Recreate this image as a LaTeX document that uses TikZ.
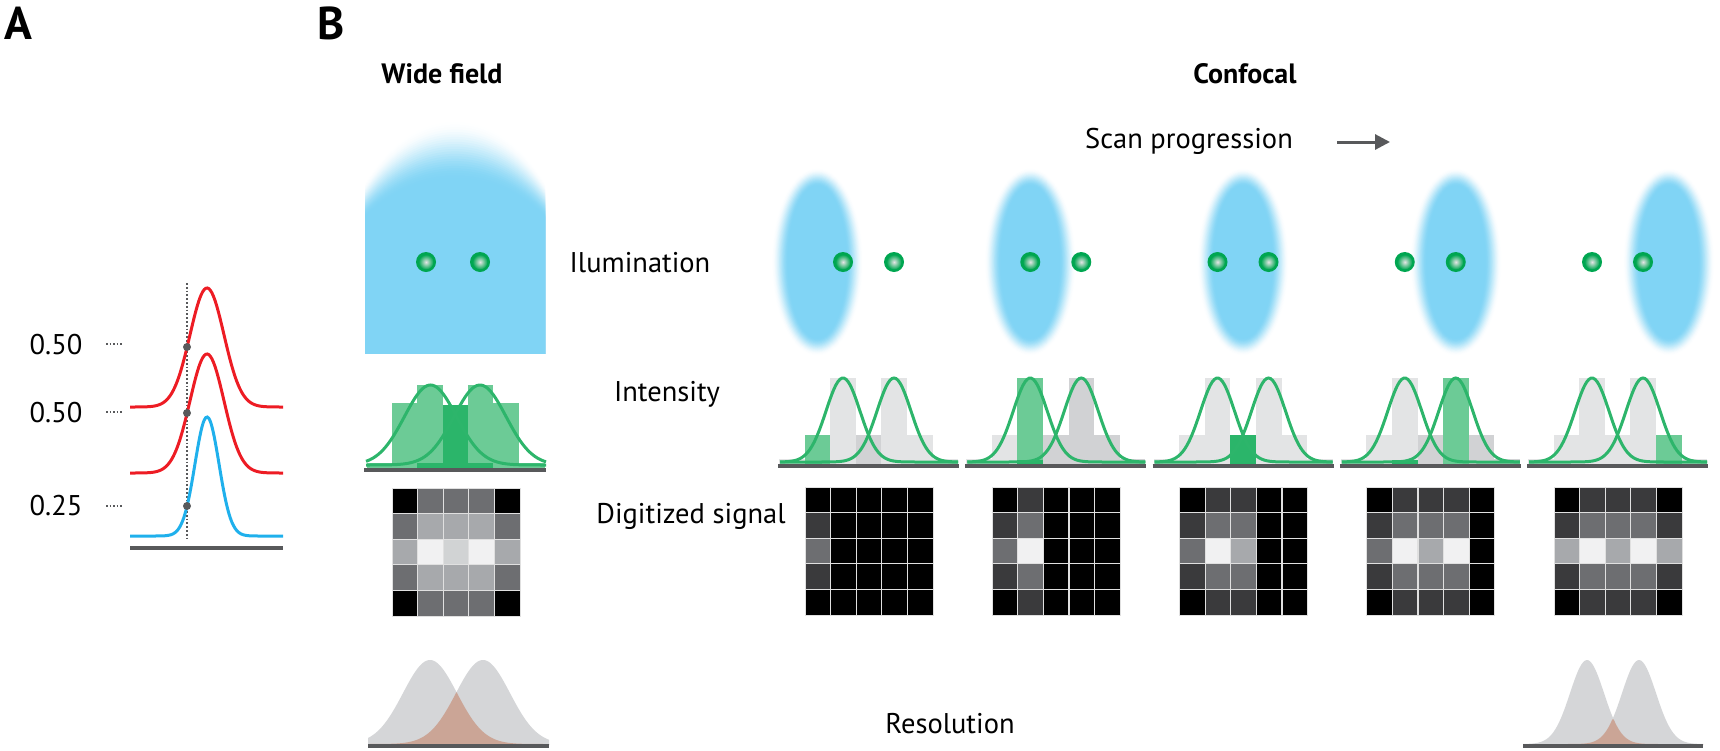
\documentclass[tikz,border=0pt]{standalone}
\usepackage{fontspec}
\setmainfont{PT Sans}
\usetikzlibrary{arrows.meta}
\definecolor{illum}{HTML}{80D4F5}
\definecolor{dotgreen}{HTML}{00A651}
\definecolor{curvegreen}{HTML}{2DB56B}
\definecolor{barlight}{HTML}{6CCB96}
\definecolor{bardark}{HTML}{2BB56A}
\definecolor{greyL}{HTML}{E3E4E5}
\definecolor{greyD}{HTML}{D1D2D4}
\definecolor{axisgrey}{HTML}{58595B}
\definecolor{resgrey}{HTML}{D5D6D8}
\definecolor{resbrown}{HTML}{CBA596}
\definecolor{redc}{HTML}{ED1C24}
\definecolor{bluec}{HTML}{1FB0EC}
\definecolor{cK}{HTML}{000000}
\definecolor{cD}{HTML}{3A3A3C}
\definecolor{cM}{HTML}{6D6E71}
\definecolor{cL}{HTML}{A7A9AC}
\definecolor{cP}{HTML}{D1D3D4}
\definecolor{cW}{HTML}{F1F1F2}
\tikzset{
  lbl/.style={font=\fontsize{28.5}{34}\selectfont, anchor=base, inner sep=0pt},
  hdr/.style={font=\bfseries\fontsize{28}{33}\selectfont, anchor=base, inner sep=0pt},
  panel/.style={font=\bfseries\fontsize{46}{52}\selectfont, anchor=base, inner sep=0pt},
  axisline/.style={axisgrey, line width=3.5pt},
  gcurveline/.style={curvegreen, line width=3pt},
  gridline/.style={white!88!black, line width=1.2pt},
}
\newcommand\blurell[6]{% cx, cy, rxo, ryo, rxi, ryi
  \foreach \k in {0,...,24}{%
    \pgfmathsetmacro\tt{\k/24}%
    \pgfmathsetmacro\pp{100*(3*\tt*\tt-2*\tt*\tt*\tt)}%
    \pgfmathsetmacro\rx{#3+(#5-#3)*\tt}%
    \pgfmathsetmacro\ry{#4+(#6-#4)*\tt}%
    \fill[illum!\pp!white] (#1,#2) ellipse [x radius=\rx, y radius=\ry];
  }}
\newcommand\gdot[2]{%
  \fill[dotgreen] (#1,#2) circle[radius=10];
  \shade[inner color=black!10, outer color=dotgreen] (#1,#2) circle[radius=7.5];}
\newcommand\gcurve[6]{% x1,x2,mu,sigma,base,amp
  \draw[gcurveline] plot[domain=#1:#2, samples=90, smooth] (\x,{#5-#6*exp(-((\x-#3)^2)/(2*#4*#4))});}
\newcommand\digigrid[3]{% x0, y0, list (macro or braced list)
  \foreach \c [count=\i from 0] in #3 {%
    \pgfmathtruncatemacro\cc{mod(\i,5)}%
    \pgfmathtruncatemacro\rr{div(\i,5)}%
    \fill[c\c] ({#1+25.6*\cc},{#2+25.6*\rr}) rectangle ++(25.6,25.6);
  }
  \foreach \j in {1,...,4}{%
    \draw[gridline] ({#1+25.6*\j},#2) -- ++(0,128);
    \draw[gridline] (#1,{#2+25.6*\j}) -- ++(128,0);
  }
  \draw[gridline, line width=0.8pt] (#1,#2) rectangle ++(128,128);}
\newcommand\barrow[2]{% a, list color/top (macro)
  \foreach \c/\tp [count=\k from 0] in #2 {%
    \fill[\c] ({#1+1+25.6*\k},\tp) rectangle ({#1+1+25.6*(\k+1)},464.5);
  }}
\begin{document}
\begin{tikzpicture}[x=1pt, y=-1pt]
\useasboundingbox (0,0) rectangle (1720,750);

% ---------- Panel A ----------
\node[panel] (A) at (18,39) {A};
\draw[axisline] (130,548) -- (283,548);
\draw[axisgrey, line width=1.8pt, dotted] (187,283) -- (187,538);
\draw[redc, line width=3pt] plot[domain=130:283, samples=100, smooth] (\x,{407-119*exp(-((\x-207)^2)/(2*17*17))});
\draw[redc, line width=3pt] plot[domain=130:283, samples=100, smooth] (\x,{473-119*exp(-((\x-207)^2)/(2*17*17))});
\draw[bluec, line width=3pt] plot[domain=130:283, samples=100, smooth] (\x,{536-119*exp(-((\x-207)^2)/(2*12*12))});
\fill[axisgrey] (187,347) circle[radius=4];
\fill[axisgrey] (187,413) circle[radius=4];
\fill[axisgrey] (187,506) circle[radius=4];
\node[lbl] (v1) at (56,354) {0.50};
\node[lbl] (v2) at (56,422) {0.50};
\node[lbl] (v3) at (56,515) {0.25};
\draw[axisgrey, line width=1.5pt, dotted] (106,344) -- (123,344);
\draw[axisgrey, line width=1.5pt, dotted] (106,412) -- (123,412);
\draw[axisgrey, line width=1.5pt, dotted] (106,506) -- (123,506);

% ---------- Panel B headers ----------
\node[panel] (B) at (331,39) {B};
\node[hdr] (wf) at (442,83) {Wide field};
\node[hdr] (conf) at (1245,83) {Confocal};
\node[lbl] (scan) at (1189,148) {Scan progression};
\coordinate (sa) at (1337,142);
\coordinate (sb) at (1390,142);
\draw[axisgrey, line width=3pt, -{Triangle[length=15pt,width=15pt]}] (sa) -- (sb);

% row labels
\node[lbl] (ilu) at (640,272) {Ilumination};
\node[lbl] (int) at (667,401) {Intensity};
\node[lbl] (dig) at (691,523) {Digitized signal};
\node[lbl] (res) at (950,733) {Resolution};

% ---------- Wide field illumination ----------
\begin{scope}
  \clip (365,110) rectangle (545,353);
  \blurell{455}{330}{126}{210}{134}{152}
  \fill[illum] (365,330) rectangle (545,353);
\end{scope}
\gdot{426}{262}
\gdot{480}{262}

% ---------- Wide field intensity ----------
\fill[barlight] (367,463) rectangle (392,468);
\fill[barlight] (392,403) rectangle (417,468);
\fill[barlight] (417,385) rectangle (443,468);
\fill[bardark] (443,405) rectangle (468,468);
\fill[barlight] (468,385) rectangle (493,468);
\fill[barlight] (493,403) rectangle (519,468);
\fill[barlight] (519,463) rectangle (545,468);
\fill[bardark] (417,463) rectangle (493,468);
\gcurve{366}{546}{430.5}{26}{465}{80}
\gcurve{366}{546}{480}{26}{465}{80}
\draw[axisline] (364,470) -- (546,470);

% ---------- Wide field digitized ----------
\digigrid{392}{488}{{K,M,M,M,K, M,L,L,L,M, L,W,P,W,L, M,L,L,L,M, K,M,M,M,K}}

% ---------- Wide field resolution ----------
\fill[resgrey] plot[domain=368:549, samples=100, smooth] (\x,{744-84*exp(-((\x-430)^2)/(2*27*27))}) -- (549,745) -- (368,745) -- cycle;
\fill[resgrey] plot[domain=368:549, samples=100, smooth] (\x,{744-84*exp(-((\x-483)^2)/(2*27*27))}) -- (549,745) -- (368,745) -- cycle;
\fill[resbrown] plot[domain=368:549, samples=140, smooth] (\x,{744-84*min(exp(-((\x-430)^2)/(2*27*27)),exp(-((\x-483)^2)/(2*27*27)))}) -- (549,745) -- (368,745) -- cycle;
\draw[axisline] (368,746) -- (549,746);

% ---------- Confocal resolution ----------
\fill[resgrey] plot[domain=1523:1703, samples=100, smooth] (\x,{744-84*exp(-((\x-1587)^2)/(2*17*17))}) -- (1703,745) -- (1523,745) -- cycle;
\fill[resgrey] plot[domain=1523:1703, samples=100, smooth] (\x,{744-84*exp(-((\x-1639)^2)/(2*17*17))}) -- (1703,745) -- (1523,745) -- cycle;
\fill[resbrown] plot[domain=1523:1703, samples=140, smooth] (\x,{744-84*min(exp(-((\x-1587)^2)/(2*17*17)),exp(-((\x-1639)^2)/(2*17*17)))}) -- (1703,745) -- (1523,745) -- cycle;
\draw[axisline] (1523,746) -- (1703,746);

% ---------- Confocal panels ----------
\foreach \i/\bars/\strip/\grid in {
  0/{greyL/459,barlight/435,greyL/378,greyD/435,greyL/378,greyL/435,greyL/459}/0/{K,K,K,K,K, D,K,K,K,K, M,K,K,K,K, D,K,K,K,K, K,K,K,K,K},
  1/{greyL/459,greyL/435,barlight/378,greyD/435,greyD/378,greyD/435,greyD/459}/1/{K,D,K,K,K, D,M,K,K,K, M,W,K,K,K, D,M,K,K,K, K,D,K,K,K},
  2/{greyL/459,greyL/435,greyL/378,bardark/435,greyL/378,greyL/435,greyL/459}/0/{K,D,D,K,K, D,M,M,K,K, M,W,L,K,K, D,M,M,K,K, K,D,D,K,K},
  3/{greyL/459,greyL/435,greyL/378,greyD/435,barlight/378,greyD/435,greyD/459}/1/{K,D,D,D,K, D,M,M,M,K, M,W,L,W,K, D,M,M,M,K, K,D,D,D,K},
  4/{greyL/459,greyL/435,greyL/378,greyL/435,greyL/378,barlight/435,greyL/459}/0/{K,D,D,D,K, D,M,M,M,D, L,W,L,W,L, D,M,M,M,D, K,D,D,D,K}}{
  \pgfmathsetmacro\a{778+187.25*\i}
  \pgfmathsetmacro\ex{\a+1+25.6*(\i+1.5)}
  \pgfmathsetmacro\da{\a+65}
  \pgfmathsetmacro\db{\a+116}
  \pgfmathsetmacro\xs{\a+2}
  \pgfmathsetmacro\xe{\a+180}
  \pgfmathsetmacro\xg{\a+27}
  % illumination
  \blurell{\ex}{262}{46}{94}{29}{76}
  \gdot{\da}{262}
  \gdot{\db}{262}
  % intensity
  \barrow{\a}{\bars}
  \ifnum\strip=1
    \fill[bardark] ({\a+1+25.6*2},460) rectangle ++(25.6,4.5);
  \fi
  \gcurve{\xs}{\xe}{\da}{17}{462}{84}
  \gcurve{\xs}{\xe}{\db}{17}{462}{84}
  \draw[axisline] (\a,466) -- ({\a+181},466);
  % digitized
  \digigrid{\xg}{487}{\grid}
}
\end{tikzpicture}
\end{document}
